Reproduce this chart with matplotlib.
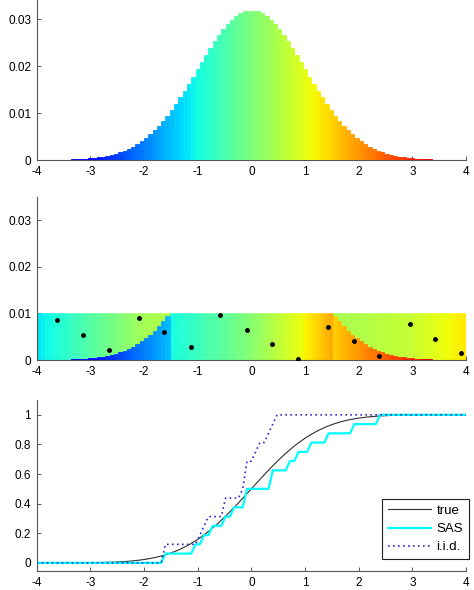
import matplotlib

matplotlib.use("Agg")

import matplotlib.pyplot as plt
import numpy as np
from matplotlib.lines import Line2D

# bin heights of the top histogram, positive half (bin centres 0.04 .. 3.96)
half_heights = [
    0.0319, 0.0317, 0.0313, 0.0307, 0.0299, 0.0290, 0.0279, 0.0267, 0.0253, 0.0239,
    0.0224, 0.0209, 0.0194, 0.0178, 0.0163, 0.0148, 0.0134, 0.0120, 0.0107, 0.00945,
    0.00832, 0.00727, 0.00632, 0.00545, 0.00467, 0.00398, 0.00337, 0.00284, 0.00237, 0.00197,
    0.00163, 0.00133, 0.00109, 0.00088, 0.00071, 0.00057, 0.00045, 0.00035, 0.00028, 0.00022,
    0.00017, 0.00013, 0.00010, 0.00007, 0.00006, 0.00004, 0.00003, 0.00002, 0.00002, 0.00001,
]
uniform_level = 0.01

# sample points shown in the middle panel
mid_x = [-3.62, -3.13, -2.66, -2.09, -1.62, -1.13, -0.58, -0.09,
         0.38, 0.87, 1.42, 1.91, 2.38, 2.95, 3.42, 3.91]
mid_y = [0.0085, 0.0054, 0.0021, 0.0090, 0.0059, 0.0028, 0.0097, 0.0065,
         0.0035, 0.0002, 0.0071, 0.0041, 0.0009, 0.0078, 0.0046, 0.0016]

# samples behind the empirical CDFs in the bottom panel
sas_samples = [-1.64, -1.07, -0.90, -0.76, -0.55, -0.32, -0.12, -0.12,
               0.38, 0.38, 0.66, 0.82, 1.09, 1.42, 1.86, 2.36]
iid_samples = [-1.63, -1.60, -0.98, -0.91, -0.85, -0.54, -0.50, -0.18,
               -0.16, -0.13, -0.10, 0.02, 0.14, 0.26, 0.36, 0.44]

x_ticks = [-4, -3, -2, -1, 0, 1, 2, 3, 4]
pdf_ticks = [0, 0.01, 0.02, 0.03]
pdf_labels = ["0", "0.01", "0.02", "0.03"]
cdf_ticks = [0, 0.2, 0.4, 0.6, 0.8, 1]
cdf_labels = ["0", "0.2", "0.4", "0.6", "0.8", "1"]

# colour anchors (jet position) of the rearranged mass in the middle panel
left_gap_colors = ([-4.0, -2.1, -1.55], [0.35, 0.54, 0.57])
center_colors = ([-1.55, -0.12, 0.85, 1.55], [0.37, 0.50, 0.625, 0.74])
right_gap_colors = ([1.55, 2.95, 4.0], [0.55, 0.59, 0.665])

plt.rcParams["font.family"] = ["Liberation Sans", "DejaVu Sans"]
plt.rcParams["font.size"] = 8.5

heights = np.array(half_heights[::-1] + half_heights)
bin_width = 8.0 / len(heights)
centers = -4 + bin_width * (np.arange(len(heights)) + 0.5)
edges = -4 + bin_width * np.arange(len(heights) + 1)
cmap = plt.get_cmap("jet")
base_colors = cmap((centers + 4) / 8)

tail = heights < uniform_level
bottom_layer = np.where(tail, heights, 0.0)
top_pos = np.where(
    centers < -1.5,
    np.interp(centers, *left_gap_colors),
    np.where(
        centers > 1.5,
        np.interp(centers, *right_gap_colors),
        np.interp(centers, *center_colors),
    ),
)
top_colors = cmap(top_pos)

fig = plt.figure(figsize=(4.74, 5.90), dpi=100)
left, width = 0.0774, 0.9057
ax1 = fig.add_axes([left, 0.7288, width, 0.2780])
ax2 = fig.add_axes([left, 0.3898, width, 0.2768])
ax3 = fig.add_axes([left, 0.0322, width, 0.2898])

# bars sit above the spines so the thin tails show as a coloured base line
ax1.bar(centers, heights, width=bin_width, color=base_colors,
        edgecolor=base_colors, linewidth=0.6, zorder=3)

ax2.bar(centers, uniform_level - bottom_layer, width=bin_width, bottom=bottom_layer,
        color=top_colors, edgecolor=top_colors, linewidth=0.4, zorder=2)
ax2.bar(centers[tail], bottom_layer[tail], width=bin_width, color=base_colors[tail],
        edgecolor=base_colors[tail], linewidth=0.6, zorder=3)
ax2.plot(mid_x, mid_y, linestyle="none", marker=".", color="black", markersize=5,
         zorder=4)

true_cdf = np.concatenate([[0.0], np.cumsum(heights)])
sas_cdf = np.searchsorted(np.sort(sas_samples), edges, side="right") / len(sas_samples)
iid_cdf = np.searchsorted(np.sort(iid_samples), edges, side="right") / len(iid_samples)

ax3.plot(edges, true_cdf, color="#303030", linewidth=0.8, label="true", zorder=2)
ax3.plot(edges, sas_cdf, color="#00ffff", linewidth=1.6, label="SAS", zorder=3)
ax3.plot(edges, iid_cdf, color="#2a2ad8", linewidth=1.2, linestyle=(0, (1, 2)),
         label="i.i.d.", zorder=4)

handles = [
    Line2D([], [], color="#303030", linewidth=0.8),
    Line2D([], [], color="#00ffff", linewidth=1.6),
    Line2D([], [], color="#2a2ad8", linewidth=1.2, linestyle=(0, (1, 2))),
]
leg = ax3.legend(handles, ["true", "SAS", "i.i.d."], loc="lower right",
                 bbox_to_anchor=(1.007, 0.068), borderaxespad=0, fancybox=False,
                 framealpha=1, edgecolor="#202020", handlelength=3.3,
                 labelspacing=0.45, borderpad=0.45, handletextpad=0.4, fontsize=9.5)
leg.get_frame().set_linewidth(0.8)
leg.set_zorder(5)

for ax in (ax1, ax2, ax3):
    ax.set_xlim(-4, 4)
    ax.set_xticks(x_ticks)
    ax.set_xticklabels([str(t) for t in x_ticks])
    for side in ("top", "right"):
        ax.spines[side].set_visible(False)
    for side in ("left", "bottom"):
        ax.spines[side].set_color("#555555")
        ax.spines[side].set_linewidth(0.8)
    ax.tick_params(direction="in", length=3, width=0.7, color="#555555", pad=4)

for ax in (ax1, ax2):
    ax.set_ylim(0, 0.035)
    ax.set_yticks(pdf_ticks)
    ax.set_yticklabels(pdf_labels)

ax3.set_ylim(-0.055, 1.1)
ax3.set_yticks(cdf_ticks)
ax3.set_yticklabels(cdf_labels)

fig.savefig("out.png", dpi=100)
